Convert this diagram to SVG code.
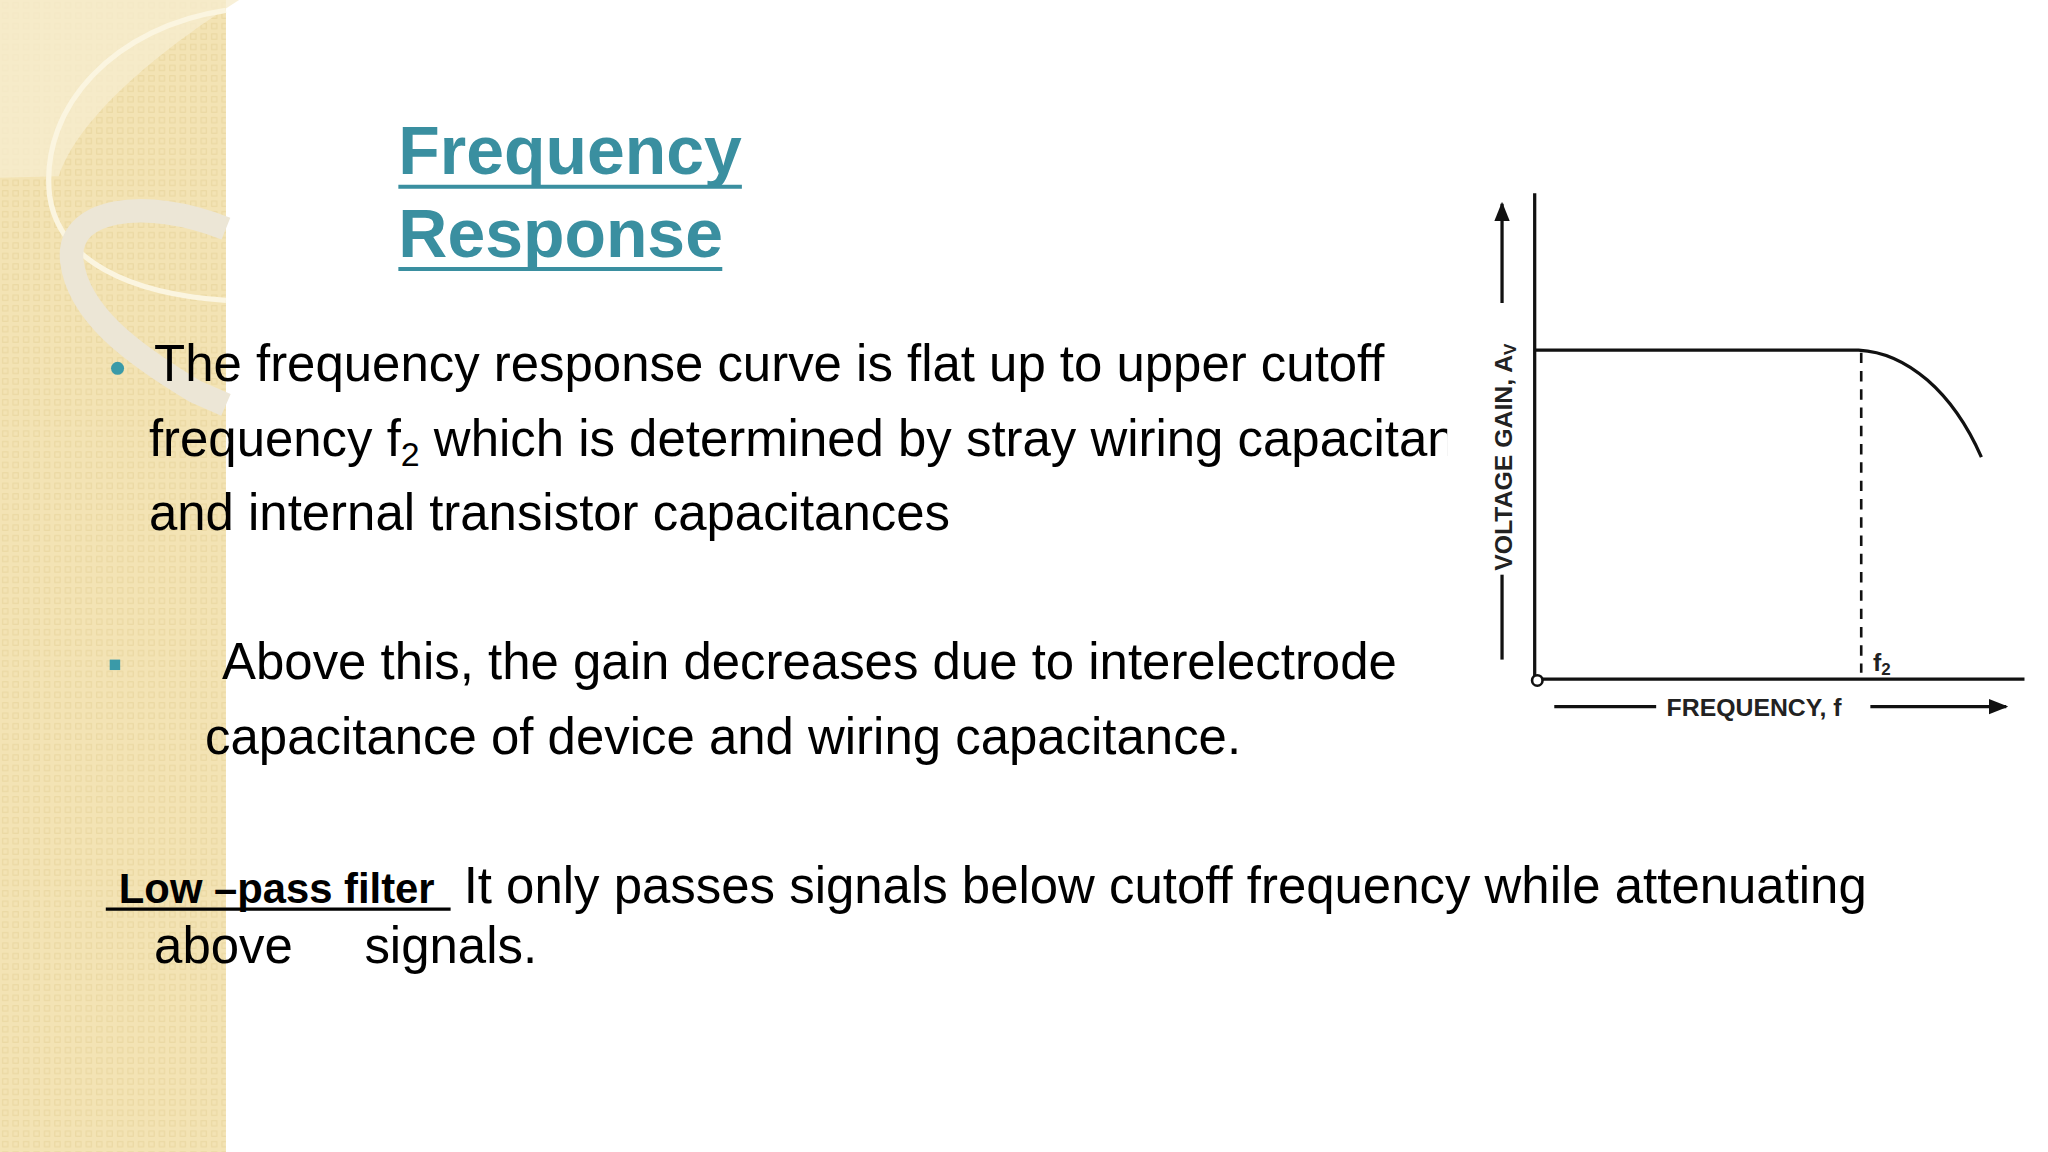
<svg xmlns="http://www.w3.org/2000/svg" width="2048" height="1152" viewBox="0 0 2048 1152">
<style>
.t{font-family:"Liberation Sans",Arial,sans-serif;font-size:39px;fill:#000}
.ttl{font-family:"Liberation Sans",Arial,sans-serif;font-size:52px;font-weight:bold;fill:#3a8fa0}
.ax{stroke:#111;stroke-width:2.5;fill:none}
.lbl{font-family:"Liberation Sans",Arial,sans-serif;font-size:19px;font-weight:bold;fill:#222}
</style>
<defs>
<pattern id="dots" width="8" height="8" patternUnits="userSpaceOnUse">
<rect width="8" height="8" fill="#f3e3b4"/>
<rect x="2" y="2" width="4" height="4" fill="none" stroke="#ead7a0" stroke-width="0.8"/>
</pattern>
<marker id="ah" viewBox="0 0 10 10" refX="9" refY="5" markerWidth="6" markerHeight="6" orient="auto"><path d="M0,1 L10,5 L0,9 z" fill="#111"/></marker>
</defs>
<rect width="2048" height="1152" fill="#fff"/>
<g transform="scale(1.30612)">
<g id="sidebar">
<rect x="0" y="0" width="173" height="882" fill="url(#dots)"/>
<path d="M0,0 H183 C120,40 60,90 45,135 L0,136 Z" fill="#f6ecce" opacity="0.8"/>
<path d="M173,8 C90,20 30,80 38,150 C45,200 100,225 173,230" fill="none" stroke="#fbf5e0" stroke-width="4"/>
<path d="M173,175 C110,150 50,160 55,200 C60,240 100,270 150,300 L173,310" fill="none" stroke="#ece6d6" stroke-width="18"/>
</g>
<g id="title">
<text class="ttl" x="305" y="133">Frequency</text>
<line x1="305" y1="143" x2="568" y2="143" stroke="#3a8fa0" stroke-width="3"/>
<text class="ttl" x="305" y="197">Response</text>
<line x1="305" y1="206" x2="553" y2="206" stroke="#3a8fa0" stroke-width="3"/>
</g>
<g id="bullet1">
<circle cx="90" cy="282" r="5" fill="#3a9aa8"/>
<text class="t" x="118" y="292">The frequency response curve is flat up to upper cutoff</text>
<text class="t" x="114" y="349">frequency f<tspan font-size="26" dy="8">2</tspan><tspan dy="-8"> which is determined by stray wiring capacitance</tspan></text>
<text class="t" x="114" y="406">and internal transistor capacitances</text>
</g>
<g id="bullet2">
<rect x="84" y="505" width="8" height="8" fill="#3a9aa8"/>
<text class="t" x="170" y="520">Above this, the gain decreases due to interelectrode</text>
<text class="t" x="157" y="577">capacitance of device and wiring capacitance.</text>
</g>
<g id="lowpass">
<text x="91" y="691" font-family="Liberation Sans,Arial,sans-serif" font-size="32" font-weight="bold">Low –pass filter</text>
<line x1="81" y1="696" x2="345" y2="696" stroke="#000" stroke-width="2.5"/>
<text class="t" x="355" y="691">It only passes signals below cutoff frequency while attenuating</text>
<text class="t" x="118" y="737">above</text>
<text class="t" x="279" y="737">signals.</text>
</g>
<g id="chart">
<rect x="1108" y="128" width="460" height="440" fill="#fff"/>
<line class="ax" x1="1175" y1="148" x2="1175" y2="520"/>
<line class="ax" x1="1175" y1="520" x2="1550" y2="520"/>
<circle cx="1177" cy="521" r="4" fill="#fff" stroke="#111" stroke-width="2"/>
<line class="ax" x1="1150" y1="232" x2="1150" y2="156" marker-end="url(#ah)"/>
<line class="ax" x1="1150" y1="440" x2="1150" y2="505"/>
<text class="lbl" transform="translate(1158,437) rotate(-90)">VOLTAGE GAIN, A<tspan font-size="13" dy="3">V</tspan></text>
<path class="ax" d="M1175,268 H1423 C1460,270 1495,300 1517,350"/>
<line x1="1425" y1="270" x2="1425" y2="515" stroke="#111" stroke-width="2" stroke-dasharray="8,6"/>
<text class="lbl" x="1434" y="514">f<tspan font-size="13" dy="3">2</tspan></text>
<line class="ax" x1="1190" y1="541" x2="1268" y2="541"/>
<text class="lbl" x="1276" y="548">FREQUENCY, f</text>
<line class="ax" x1="1432" y1="541" x2="1536" y2="541" marker-end="url(#ah)"/>
</g>
</g>
</svg>
